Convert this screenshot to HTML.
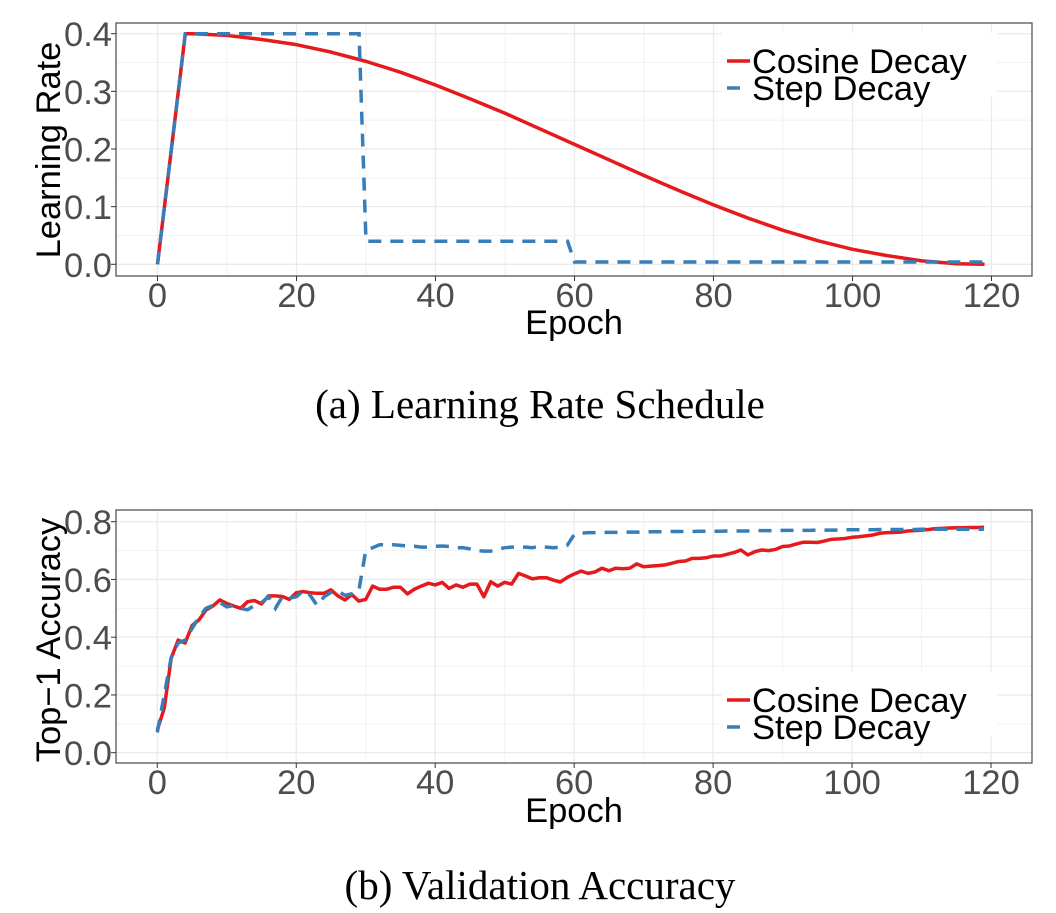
<!DOCTYPE html>
<html><head><meta charset="utf-8">
<style>
html,body{margin:0;padding:0;background:#fff;}
svg{display:block;font-family:"Liberation Sans",sans-serif;}
.tick{fill:#4d4d4d;font-size:34.5px;}
.title{fill:#000;font-size:34.5px;}
.cap{font-family:"Liberation Serif",serif;font-size:41px;fill:#000;}
.leg{font-size:34.5px;fill:#000;}
</style></head>
<body>
<svg id="chart" width="1056" height="913" viewBox="0 0 1056 913"></svg>
<script>
// ---- data ----
const lrCosEpochs=[0,4,5,10,15,20,25,30,35,40,45,50,55,60,65,70,75,80,85,90,95,100,105,110,115,119];
const lrCosValues=[0,0.4,0.4,0.397,0.39,0.381,0.368,0.352,0.333,0.311,0.287,0.262,0.235,0.208,0.181,0.154,0.128,0.103,0.080,0.059,0.041,0.026,0.015,0.006,0.001,0];
const lrStepEpochs=[0,4,29,30,59,60,119];
const lrStepValues=[0,0.4,0.4,0.04,0.04,0.004,0.004];
const accCos=[0.079,0.154,0.327,0.39,0.38,0.44,0.46,0.494,0.508,0.529,0.517,0.508,0.5,0.523,0.527,0.515,0.543,0.543,0.541,0.531,0.554,0.558,0.554,0.552,0.552,0.564,0.543,0.529,0.548,0.525,0.531,0.577,0.566,0.566,0.573,0.573,0.55,0.566,0.577,0.587,0.581,0.59,0.569,0.581,0.573,0.584,0.584,0.54,0.592,0.577,0.59,0.584,0.621,0.612,0.602,0.606,0.606,0.598,0.591,0.607,0.619,0.629,0.621,0.626,0.639,0.63,0.639,0.637,0.639,0.654,0.644,0.646,0.648,0.65,0.656,0.662,0.664,0.673,0.673,0.675,0.681,0.681,0.687,0.693,0.702,0.685,0.696,0.702,0.7,0.704,0.714,0.716,0.723,0.729,0.729,0.728,0.733,0.739,0.74,0.742,0.746,0.748,0.751,0.754,0.76,0.762,0.763,0.764,0.768,0.769,0.771,0.773,0.776,0.777,0.778,0.779,0.779,0.78,0.78,0.781];
const accStep=[0.07,0.2,0.33,0.38,0.39,0.43,0.47,0.5,0.51,0.52,0.505,0.51,0.5,0.495,0.51,0.52,0.54,0.5,0.54,0.535,0.54,0.56,0.545,0.51,0.54,0.555,0.56,0.545,0.55,0.56,0.7,0.71,0.72,0.72,0.72,0.718,0.716,0.715,0.712,0.712,0.715,0.716,0.714,0.71,0.71,0.706,0.7,0.698,0.698,0.705,0.71,0.712,0.712,0.712,0.71,0.715,0.712,0.71,0.712,0.718,0.755,0.76,0.762,0.762,0.763,0.763,0.763,0.764,0.764,0.764,0.764,0.765,0.765,0.765,0.766,0.766,0.766,0.766,0.767,0.767,0.767,0.767,0.768,0.768,0.768,0.768,0.769,0.769,0.769,0.769,0.77,0.77,0.77,0.77,0.77,0.771,0.771,0.771,0.771,0.772,0.772,0.772,0.772,0.772,0.773,0.773,0.773,0.773,0.773,0.773,0.774,0.774,0.774,0.774,0.774,0.774,0.774,0.774,0.774,0.774];
const xTicks=[0,20,40,60,80,100,120];
const lrTicks=[0,0.1,0.2,0.3,0.4];
const lrTickLabels=["0.0","0.1","0.2","0.3","0.4"];
const accTicks=[0,0.2,0.4,0.6,0.8];
const accTickLabels=["0.0","0.2","0.4","0.6","0.8"];
const seriesNames=["Cosine Decay","Step Decay"];

const svg=document.getElementById('chart');
const NS='http://www.w3.org/2000/svg';
function mk(tag,attrs,parent){const e=document.createElementNS(NS,tag);for(const k in attrs)e.setAttribute(k,attrs[k]);(parent||svg).appendChild(e);return e;}

function panel(cfg){
  const g=mk('g',{});
  
  
  const xs=e=>cfg.x0+(e)*(cfg.x120-cfg.x0)/120;
  const ys=v=>cfg.y0+v*(cfg.yTop-cfg.y0)/cfg.topVal;
  for(let e=10;e<=110;e+=20){const l=mk('line',{x1:xs(e),x2:xs(e),y1:cfg.top,y2:cfg.bottom,stroke:'#f2f2f2','stroke-width':1},g);}
  for(let i=0;i<cfg.ticks.length-1;i++){const v=(cfg.ticks[i]+cfg.ticks[i+1])/2;const l=mk('line',{x1:cfg.left,x2:cfg.right,y1:ys(v),y2:ys(v),stroke:'#f2f2f2','stroke-width':1},g);}
  xTicks.forEach(e=>{const l=mk('line',{x1:xs(e),x2:xs(e),y1:cfg.top,y2:cfg.bottom,stroke:'#ebebeb','stroke-width':1.3},g);});
  cfg.ticks.forEach(v=>{const l=mk('line',{x1:cfg.left,x2:cfg.right,y1:ys(v),y2:ys(v),stroke:'#ebebeb','stroke-width':1.3},g);});
  const red=mk('polyline',{points:cfg.redX.map((e,i)=>xs(e)+','+ys(cfg.redY[i])).join(' '),fill:'none',stroke:'#e41a1c','stroke-width':3.5,'stroke-linejoin':'round'},g);
  
  
  const blue=mk('polyline',{points:cfg.blueX.map((e,i)=>xs(e)+','+ys(cfg.blueY[i])).join(' '),fill:'none',stroke:'#377eb8','stroke-width':3.5,'stroke-dasharray':'13,9'},g);
  
  
  const b=mk('rect',{x:cfg.left,y:cfg.top,width:cfg.right-cfg.left,height:cfg.bottom-cfg.top,fill:'none',stroke:'#555','stroke-width':1.3},g);
  
  
  xTicks.forEach(e=>{
    mk('line',{x1:xs(e),x2:xs(e),y1:cfg.bottom,y2:cfg.bottom+5,stroke:'#333'},g);
    const tx=mk('text',{x:xs(e),y:cfg.xLabY,'text-anchor':'middle',class:'tick'},g);tx.textContent=e;
    
    
  });
  cfg.ticks.forEach((v,i)=>{
    mk('line',{x1:cfg.left-5,x2:cfg.left,y1:ys(v),y2:ys(v),stroke:'#333'},g);
    const tx=mk('text',{x:cfg.left-4,y:ys(v)+12.5,'text-anchor':'end',class:'tick'},g);tx.textContent=cfg.tickLabels[i];
    
    
  });
  const xt=mk('text',{x:574,y:cfg.xTitleY,'text-anchor':'middle',class:'title'},g);xt.textContent='Epoch';
  
  
  const yt=mk('text',{x:0,y:0,'text-anchor':'middle',class:'title',transform:`translate(60,${cfg.yTitleC}) rotate(-90)`},g);yt.textContent=cfg.yTitle;
  
  
  const lg=mk('g',{},g);
  
  
  mk('rect',{x:722,y:cfg.legY-28,width:275,height:64,fill:'#fff'},lg);
  const l1=mk('line',{x1:727,x2:750,y1:cfg.legY,y2:cfg.legY,stroke:'#e41a1c','stroke-width':3.5},lg);
  
  
  const t1=mk('text',{x:752,y:cfg.legY+12,class:'leg'},lg);t1.textContent=seriesNames[0];
  
  
  const l2=mk('line',{x1:727,x2:740,y1:cfg.legY+27,y2:cfg.legY+27,stroke:'#377eb8','stroke-width':3.5},lg);
  
  
  const t2=mk('text',{x:752,y:cfg.legY+39,class:'leg'},lg);t2.textContent=seriesNames[1];
  
  
  const cp=mk('text',{x:540,y:cfg.capY,'text-anchor':'middle',class:'cap'});cp.textContent=cfg.caption;
  
  
}
const epochs=accCos.map((_,i)=>i);
panel({name:'learning-rate-panel',left:116,right:1032,top:23,bottom:276,x0:157.5,x120:991.5,y0:264.3,yTop:33.7,topVal:0.4,
  ticks:lrTicks,tickLabels:lrTickLabels,redX:lrCosEpochs,redY:lrCosValues,blueX:lrStepEpochs,blueY:lrStepValues,
  xLabY:307,xTitleY:334,yTitle:'Learning Rate',yTitleC:150,legY:61,caption:'(a) Learning Rate Schedule',capY:418});
panel({name:'accuracy-panel',left:116,right:1032,top:510,bottom:763,x0:157.3,x120:991,y0:752.7,yTop:521.7,topVal:0.8,
  ticks:accTicks,tickLabels:accTickLabels,redX:epochs,redY:accCos,blueX:epochs,blueY:accStep,
  xLabY:794,xTitleY:822,yTitle:'Top\u22121 Accuracy',yTitleC:640,legY:700,caption:'(b) Validation Accuracy',capY:899});
</script>
</body></html>
